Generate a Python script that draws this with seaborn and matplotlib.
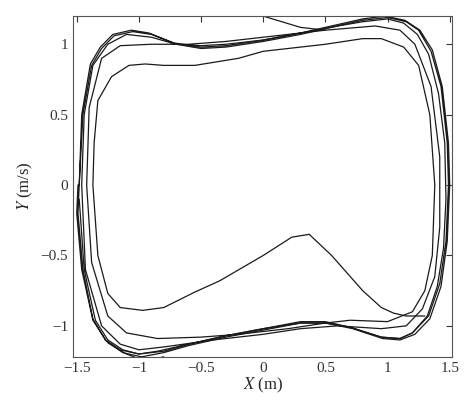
import matplotlib
matplotlib.use("Agg")
import matplotlib.pyplot as plt
import seaborn as sns
import pandas as pd
import numpy as np

sns.set_style("white")
plt.rcParams['font.family'] = ['Liberation Serif', 'DejaVu Serif']
plt.rcParams['mathtext.fontset'] = 'stix'

# spiral trajectory from the inner start point outward
spiral_x = [0.37, 0.23, 0.0, -0.35, -0.55, -0.8, -0.97, -1.15, -1.25, -1.33, -1.37, -1.36, -1.33, -1.22, -1.08, -0.95, -0.8, -0.55, -0.2, 0.0, 0.5, 0.8, 0.95, 1.13, 1.25, 1.34, 1.38, 1.36, 1.3, 1.2, 1.0, 0.7, 0.5, 0.2, -0.2, -0.5, -0.85, -1.1, -1.25, -1.38, -1.42, -1.4, -1.3, -1.15, -0.9, -0.6, -0.3, 0.0, 0.5, 0.9, 1.1, 1.22, 1.35, 1.42, 1.42, 1.38, 1.28, 1.15, 0.95, 0.6, 0.3, 0.0, -0.4, -0.8, -1.0, -1.15, -1.3, -1.43, -1.46, -1.44, -1.37, -1.25, -1.1, -0.9, -0.7, -0.5, -0.3, 0.0, 0.3, 0.6, 0.8, 1.0, 1.13, 1.24, 1.33, 1.41, 1.46, 1.47, 1.45, 1.4, 1.32, 1.2, 1.1, 0.95, 0.7, 0.5, 0.3, 0.0, -0.3, -0.6, -0.85, -1.0, -1.13, -1.25, -1.35, -1.44, -1.48]
spiral_y = [-0.35, -0.37, -0.5, -0.68, -0.76, -0.87, -0.89, -0.87, -0.77, -0.5, 0.0, 0.3, 0.6, 0.77, 0.85, 0.86, 0.85, 0.85, 0.9, 0.95, 1.0, 1.04, 1.04, 0.98, 0.85, 0.5, 0.0, -0.5, -0.75, -0.9, -0.97, -0.96, -0.98, -1.02, -1.06, -1.08, -1.09, -1.05, -0.93, -0.55, 0.0, 0.55, 0.9, 0.99, 1.0, 1.0, 1.02, 1.05, 1.1, 1.13, 1.1, 1.0, 0.7, 0.2, -0.3, -0.65, -0.88, -1.0, -1.02, -1.0, -1.02, -1.06, -1.1, -1.15, -1.17, -1.13, -1.0, -0.6, 0.0, 0.5, 0.85, 1.0, 1.07, 1.05, 1.0, 0.99, 1.0, 1.03, 1.08, 1.13, 1.16, 1.18, 1.15, 1.07, 0.93, 0.65, 0.3, -0.1, -0.45, -0.72, -0.93, -1.05, -1.09, -1.08, -1.01, -0.98, -0.98, -1.02, -1.07, -1.13, -1.18, -1.2, -1.17, -1.1, -0.96, -0.6, -0.1]

# settled limit cycle (two laps)
cycle_x = [-1.48, -1.45, -1.38, -1.3, -1.2, -1.05, -0.9, -0.7, -0.5, -0.3, 0.0, 0.3, 0.6, 0.8, 1.0, 1.15, 1.25, 1.35, 1.43, 1.48, 1.49, 1.47, 1.42, 1.33, 1.2, 1.1, 0.95, 0.7, 0.5, 0.3, 0.0, -0.3, -0.6, -0.8, -1.0, -1.15, -1.27, -1.37, -1.45, -1.49, -1.48, -1.46, -1.39, -1.31, -1.21, -1.06, -0.92, -0.72, -0.5, -0.3, 0.0, 0.3, 0.6, 0.8, 0.98, 1.14, 1.26, 1.36, 1.44, 1.49, 1.5, 1.48, 1.43, 1.34, 1.22, 1.1, 0.96, 0.72, 0.5, 0.3, 0.0, -0.3, -0.6, -0.8, -0.98, -1.13, -1.26, -1.37, -1.46, -1.5, -1.49]
cycle_y = [0.0, 0.5, 0.85, 0.97, 1.06, 1.09, 1.07, 1.0, 0.97, 0.98, 1.02, 1.07, 1.13, 1.17, 1.19, 1.16, 1.1, 0.95, 0.7, 0.3, 0.0, -0.4, -0.7, -0.93, -1.05, -1.09, -1.08, -1.01, -0.97, -0.97, -1.02, -1.07, -1.13, -1.18, -1.2, -1.17, -1.1, -0.95, -0.6, -0.2, 0.0, 0.5, 0.86, 0.98, 1.07, 1.1, 1.08, 1.01, 0.98, 0.99, 1.03, 1.08, 1.14, 1.18, 1.2, 1.17, 1.1, 0.96, 0.7, 0.3, 0.0, -0.4, -0.72, -0.95, -1.06, -1.1, -1.09, -1.02, -0.98, -0.98, -1.03, -1.08, -1.14, -1.19, -1.22, -1.19, -1.11, -0.96, -0.6, -0.2, 0.0]

# other branch from the start point
branch_x = [0.37, 0.55, 0.8, 0.95, 1.05, 1.15, 1.3]
branch_y = [-0.35, -0.5, -0.75, -0.87, -0.91, -0.93, -0.93]

# entry segment at the top
top_x = [0.0, 0.15, 0.3, 0.5]
top_y = [1.2, 1.16, 1.12, 1.1]

# lower-left excursions clipped by the frame
low_x = [-1.25, -1.1, -0.95, -0.8]
low_y = [-1.12, -1.2, -1.25, -1.22]

fig = plt.figure(figsize=(4.74, 4.13), dpi=100)
ax = fig.add_axes([0.154, 0.136, 0.8, 0.825])
for xs, ys in [(spiral_x, spiral_y), (cycle_x, cycle_y), (branch_x, branch_y), (top_x, top_y), (low_x, low_y)]:
    df = pd.DataFrame({"x": xs, "y": ys})
    sns.lineplot(data=df, x="x", y="y", sort=False, estimator=None, color="#1a1a1a", lw=0.9, ax=ax)

ax.set_xlim(-1.53, 1.52)
ax.set_ylim(-1.22, 1.2)
ax.set_xticks([-1.5, -1, -0.5, 0, 0.5, 1, 1.5])
ax.set_xticklabels(["−1.5", "−1", "−0.5", "0", "0.5", "1", "1.5"])
ax.set_yticks([-1, -0.5, 0, 0.5, 1])
ax.set_yticklabels(["−1", "−0.5", "0", "0.5", "1"])
ax.tick_params(direction="in", length=4, labelsize=11, colors="#333333", top=True, right=True)
for s in ax.spines.values():
    s.set_color("#555555"); s.set_linewidth(0.8)
ax.set_xlabel("$X$ (m)", fontsize=12, labelpad=1)
ax.set_ylabel("$Y$ (m/s)", fontsize=12, labelpad=4)
fig.savefig("out.png", dpi=100)
